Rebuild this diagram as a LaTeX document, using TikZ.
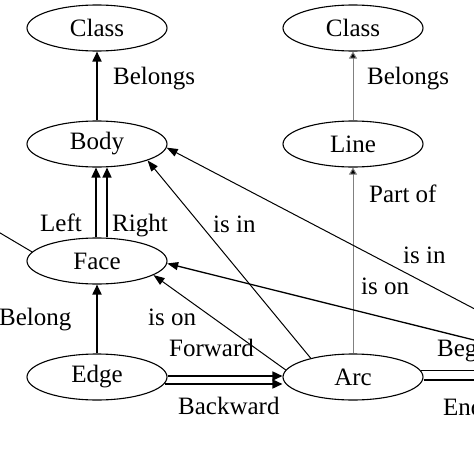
\documentclass[tikz,border=0pt]{standalone}
\usepackage{fontspec}
\setmainfont{Liberation Serif}
\usetikzlibrary{arrows.meta,shapes.geometric}
\begin{document}
\begin{tikzpicture}[x=1pt,y=-1pt,
  ell/.style={draw,line width=1.1pt,ellipse,minimum width=140pt,minimum height=46pt,inner sep=0pt,font=\fontsize{25}{30}\selectfont},
  lab/.style={anchor=base west,inner sep=0pt,font=\fontsize{25}{30}\selectfont},
  thk/.style={line width=1.8pt,-{Triangle[length=10pt,width=9pt]}},
  thn/.style={line width=1pt,-{Triangle[length=11pt,width=8pt]}},
  gry/.style={line width=1pt,draw=gray,-{Triangle[length=7pt,width=8pt,fill=black]}},
  plain/.style={line width=1pt}
]
\useasboundingbox (0,0) rectangle (474,474);
\clip (0,0) rectangle (474,474);
\fill[white] (0,0) rectangle (474,474);

\node[ell] (classL) at (97,28) {Class};
\node[ell] (body) at (97,144) {Body};
\node[ell] (face) at (97,261) {Face};
\node[ell] (edge) at (97,377) {Edge};
\node[ell] (arc) at (353,377) {Arc};
\node[ell] (classR) at (353,28) {Class};
\node[ell] (line) at (353,144) {Line};

\coordinate (offL) at (-10,227);
\coordinate (offIsIn) at (490,317);
\coordinate (offIsOn) at (490,344);
\coordinate (offB) at (490,370);
\coordinate (offE) at (490,380);

\draw[thk] (body.north) -- (classL.south);
\draw[thk,line width=1.5pt] ([xshift=-1pt]face.north) -- ([xshift=-1pt]body.south);
\draw[thk,line width=1.5pt] ([xshift=10pt]face.north) -- ([xshift=10pt]body.south);
\draw[thk] (edge.north) -- (face.south);
\draw[thk,line width=1.6pt] ([yshift=1pt]edge.east) -- ([yshift=1pt]arc.west);
\draw[thk,line width=1.6pt] ([xshift=-3pt,yshift=-7pt]edge.east) -- ([yshift=-7pt]arc.west);
\draw[plain] ([xshift=-3pt,yshift=7pt]arc.east) -- (offB);
\draw[plain,line width=2pt] ([yshift=-3pt]arc.east) -- (offE);
\draw[gry] (arc.north) -- (line.south);
\draw[gry] (line.north) -- (classR.south);
\draw[thn] (arc.156) -- (body.-18);
\draw[thn] (arc.174) -- (face.-14);
\draw[thn] (offIsIn) -- (body.-3);
\draw[thn,line width=1.3pt] (offIsOn) -- (face.-2);
\draw[plain] (offL) -- (face.172);

\node[lab] (tBelL) at (113,84) {Belongs};
\node[lab] (tBelR) at (367,84) {Belongs};
\node[lab] (tPart) at (369,202) {Part of};
\node[lab] (tLeft) at (40,231) {Left};
\node[lab] (tRight) at (112,231) {Right};
\node[lab] (tIsIn1) at (213,232) {is in};
\node[lab] (tIsIn2) at (403,263) {is in};
\node[lab] (tIsOn2) at (361,294) {is on};
\node[lab] (tBelong) at (-1,325) {Belong};
\node[lab] (tIsOn1) at (148,325) {is on};
\node[lab] (tFwd) at (169,356) {Forward};
\node[lab] (tBwd) at (178,414) {Backward};
\node[lab] (tBeg) at (437,356) {Begin};
\node[lab] (tEnd) at (443,415) {End};
\end{tikzpicture}
\end{document}
